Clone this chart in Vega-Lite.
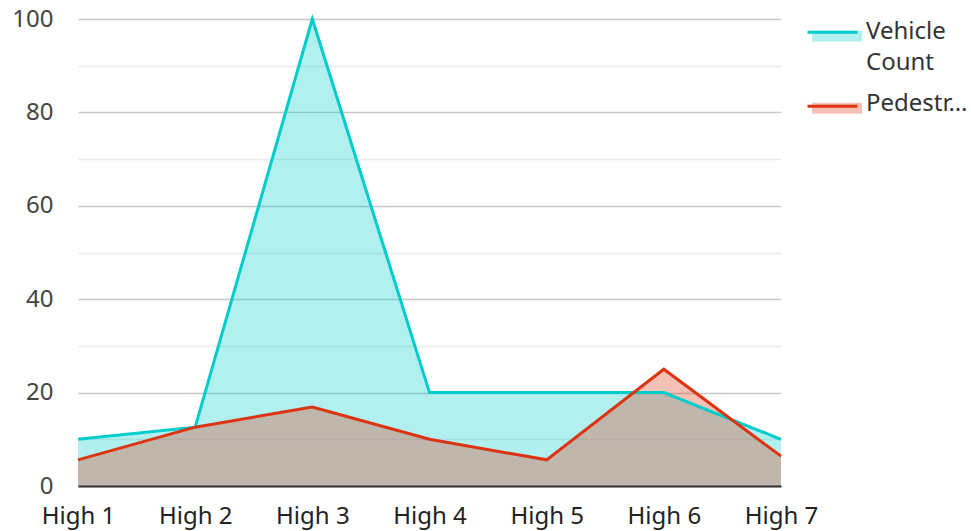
{
  "$schema": "https://vega.github.io/schema/vega-lite/v6.json",
  "width": 703,
  "height": 467,
  "autosize": "none",
  "padding": {"left": 78, "top": 19, "right": 190, "bottom": 45},
  "background": "white",
  "config": {"font": "Noto Sans", "view": {"stroke": null}},
  "data": {
    "values": [
      {"location": "High 1", "series": "Vehicle Count", "value": 10},
      {"location": "High 2", "series": "Vehicle Count", "value": 12.6},
      {"location": "High 3", "series": "Vehicle Count", "value": 100},
      {"location": "High 4", "series": "Vehicle Count", "value": 20},
      {"location": "High 5", "series": "Vehicle Count", "value": 20},
      {"location": "High 6", "series": "Vehicle Count", "value": 20},
      {"location": "High 7", "series": "Vehicle Count", "value": 10},
      {"location": "High 1", "series": "Pedestrian Count", "value": 5.6},
      {"location": "High 2", "series": "Pedestrian Count", "value": 12.6},
      {"location": "High 3", "series": "Pedestrian Count", "value": 16.9},
      {"location": "High 4", "series": "Pedestrian Count", "value": 10},
      {"location": "High 5", "series": "Pedestrian Count", "value": 5.6},
      {"location": "High 6", "series": "Pedestrian Count", "value": 25},
      {"location": "High 7", "series": "Pedestrian Count", "value": 6.4}
    ]
  },
  "encoding": {
    "x": {
      "field": "location", "type": "ordinal", "sort": null,
      "scale": {"type": "point", "padding": 0},
      "axis": {"title": null, "labelAngle": 0, "labelFontSize": 24, "labelColor": "#222", "domainColor": "#333", "domainWidth": 2, "ticks": false, "labelPadding": 18, "grid": false, "zindex": 1}
    },
    "y": {
      "field": "value", "type": "quantitative", "stack": null,
      "scale": {"domain": [0, 100], "nice": false},
      "axis": {
        "title": null, "domain": false, "ticks": false,
        "values": [0, 10, 20, 30, 40, 50, 60, 70, 80, 90, 100],
        "labelExpr": "datum.value % 20 == 0 ? datum.label : ''",
        "labelFontSize": 24, "labelColor": "#444", "labelPadding": 25,
        "gridColor": {"condition": {"test": "datum.value % 20 == 0", "value": "#c8c8c8"}, "value": "#ebebeb"},
        "gridWidth": 1.5
      }
    }
  },
  "layer": [
    {
      "mark": {"type": "area", "opacity": 0.3},
      "encoding": {
        "fill": {
          "field": "series", "type": "nominal", "sort": null,
          "scale": {"domain": ["Vehicle Count", "Pedestrian Count"], "range": ["#00cccc", "#dd3311"]},
          "legend": {
            "title": null, "orient": "right", "offset": 37, "padding": 0,
            "symbolType": "M-1.923,-0.1H1.923V0.75H-1.923Z", "symbolSize": 676, "symbolOpacity": 0.3, "symbolStrokeWidth": 0,
            "labelFontSize": 24, "labelColor": "#333", "labelLimit": 110, "labelOffset": 16, "rowPadding": 16,
            "labelExpr": "datum.label == 'Vehicle Count' ? ['Vehicle', 'Count'] : datum.label",
            "encode": {"labels": {"update": {"lineHeight": {"value": 31}}}}
          }
        }
      }
    },
    {
      "mark": {"type": "line", "strokeWidth": 3},
      "encoding": {
        "stroke": {
          "field": "series", "type": "nominal", "sort": null,
          "scale": {"domain": ["Vehicle Count", "Pedestrian Count"], "range": ["#00cccc", "#dd3311"]},
          "legend": {
            "title": null, "orient": "none", "legendX": 740, "legendY": 0, "padding": 0,
            "symbolType": "M-1.923,-0.1H1.923", "symbolSize": 676, "symbolStrokeWidth": 3,
            "labelFontSize": 24, "labelColor": "#333", "labelOpacity": 0, "labelLimit": 110, "labelOffset": 16, "rowPadding": 16,
            "labelExpr": "datum.label == 'Vehicle Count' ? [' ', ' '] : ' '",
            "encode": {"labels": {"update": {"lineHeight": {"value": 31}}}}
          }
        }
      }
    }
  ]
}
